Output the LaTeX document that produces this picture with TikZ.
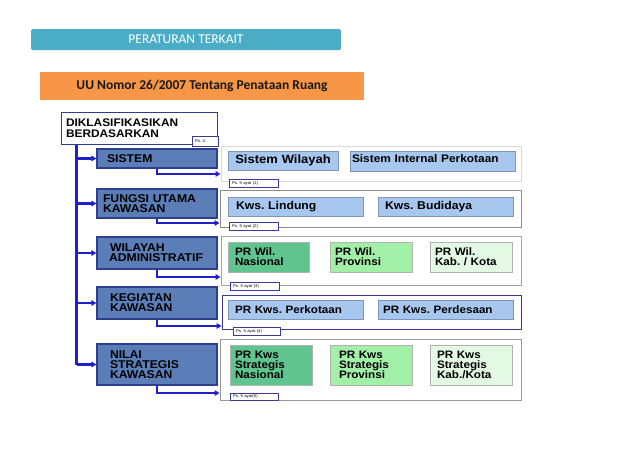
\documentclass[tikz,border=0pt]{standalone}
\usepackage{fontspec}
\setmainfont{Liberation Sans}[FakeStretch=1.08]
\newfontfamily\calib{Carlito}
\usetikzlibrary{arrows.meta}
\definecolor{cTeal}{HTML}{4BACC6}
\definecolor{cOrange}{HTML}{F79646}
\definecolor{cCat}{HTML}{5C7EB8}
\definecolor{cCatB}{HTML}{2E3F8F}
\definecolor{cArrow}{HTML}{1F1FCF}
\definecolor{cLB}{HTML}{A7C7EF}
\definecolor{cLBB}{HTML}{7F95B5}
\definecolor{cG1}{HTML}{5FC48E}
\definecolor{cG2}{HTML}{A2EFA8}
\definecolor{cG3}{HTML}{E4F9E4}
\definecolor{cLab}{HTML}{3A3A9A}
\frenchspacing
\begin{document}
\begin{tikzpicture}[x=1pt,y=-1pt,
  sz/.style 2 args={minimum width=#1pt,minimum height=#2pt,text width=#1pt},
  cat/.style={draw=cCatB,line width=1.2pt,fill=cCat,inner sep=0pt,align=left,
    font=\fontsize{11.3}{10}\selectfont\bfseries},
  inbox/.style={draw=cLBB,line width=0.8pt,fill=cLB,inner sep=0pt,align=left,
    font=\fontsize{12}{12}\selectfont\bfseries},
  grbox/.style={draw=gray!60,line width=0.8pt,inner sep=0pt,align=left,
    font=\fontsize{10.8}{10.2}\selectfont\bfseries},
  panel/.style={draw=#1,line width=0.9pt,fill=white,inner sep=0pt},
  lab/.style={draw=cLab,line width=0.6pt,fill=white,inner sep=0pt,align=left,
    font=\fontsize{4}{4}\selectfont},
  conn/.style={draw=cArrow,line width=2.2pt,-{Triangle[length=5pt,width=5.5pt]}},
  trunkline/.style={draw=cArrow,line width=2.2pt}]
\useasboundingbox (0,0) rectangle (638,451);

% title bars
\node[fill=cTeal,rounded corners=1.5pt,minimum width=310pt,minimum height=21pt,inner sep=0pt,
  text=white,font=\calib\fontsize{13.5}{13.5}\selectfont] (tb) at (186,39.5) {PERATURAN TERKAIT};
\node[fill=cOrange,minimum width=324pt,minimum height=28pt,inner sep=0pt,
  text=black!90,font=\calib\bfseries\fontsize{13.5}{13.5}\selectfont] (ob) at (202,86)
  {UU Nomor 26/2007 Tentang Penataan Ruang};

% panels
\node[panel=gray!30,minimum width=300pt,minimum height=35pt] (p1) at (371,163.5) {};
\node[panel=gray!90,minimum width=301pt,minimum height=37pt] (p2) at (370.5,208.5) {};
\node[panel=gray!70,minimum width=300pt,minimum height=49pt] (p3) at (371,260.5) {};
\node[panel=cLab,minimum width=299pt,minimum height=34pt] (p4) at (371.5,312) {};
\node[panel=gray!80,minimum width=301pt,minimum height=61pt] (p5) at (370.5,369.5) {};

% connector end points on panels
\coordinate (e1) at (p1.west |- 0,174);
\coordinate (e2) at (p2.west |- 0,223);
\coordinate (e3) at (p3.west |- 0,277);
\coordinate (e4) at (p4.west |- 0,326);
\coordinate (e5) at (p5.west |- 0,393);

% header box
\node[draw=cCatB,line width=1pt,fill=white,inner sep=0pt,align=left,sz={156}{32},
  font=\fontsize{11}{11.5}\selectfont\bfseries] (dk) at (139,128)
  {\hspace*{5pt}DIKLASIFIKASIKAN\\\hspace*{5pt}BERDASARKAN};
\coordinate (trunk) at ([xshift=16pt]dk.south west);

% category boxes
\node[cat,sz={120}{19}] (sis) at (157,158.5) {\hspace*{10pt}SISTEM};
\node[cat,sz={120}{29}] (fun) at (157,203.5) {\hspace*{6pt}FUNGSI UTAMA\\\hspace*{6pt}KAWASAN};
\node[cat,sz={120}{32}] (wil) at (157,253) {\hspace*{13pt}WILAYAH\\\hspace*{12pt}ADMINISTRATIF};
\node[cat,sz={120}{32}] (keg) at (157,303) {\hspace*{13pt}KEGIATAN\\\hspace*{13pt}KAWASAN};
\node[cat,sz={120}{41}] (nil) at (157,364.5) {\hspace*{13pt}NILAI\\\hspace*{13pt}STRATEGIS\\\hspace*{13pt}KAWASAN};

% trunk and arrows
\draw[trunkline] (trunk) -- (trunk |- nil.west);
\draw[conn] (trunk |- sis.west) -- (sis.west);
\draw[conn] (trunk |- fun.west) -- (fun.west);
\draw[conn] (trunk |- wil.west) -- (wil.west);
\draw[conn] (trunk |- keg.west) -- (keg.west);
\draw[conn] (trunk |- nil.west) -- (nil.west);

\draw[conn] (sis.south) |- (e1);
\draw[conn] (fun.south) |- (e2);
\draw[conn] (wil.south) |- (e3);
\draw[conn] (keg.south) |- (e4);
\draw[conn] (nil.south) |- (e5);

% inner boxes
\node[inbox,sz={110}{19},align=center] (sw) at (283,160.5) {Sistem Wilayah};
\node[inbox,sz={165}{20},font=\fontsize{11}{11}\selectfont\bfseries] (sip) at (432.5,161) {\hspace*{2pt}\raisebox{5pt}{Sistem Internal Perkotaan}};
\node[inbox,sz={135}{19},font=\fontsize{11.3}{11}\selectfont\bfseries] (kl) at (295.5,206.5) {\hspace*{8pt}Kws. Lindung};
\node[inbox,sz={135}{19},font=\fontsize{11.3}{11}\selectfont\bfseries] (kb) at (445.5,206.5) {\hspace*{7pt}Kws. Budidaya};

\node[grbox,fill=cG1,sz={81}{30}] (wn) at (268.5,257) {\hspace*{7pt}PR Wil.\\\hspace*{7pt}Nasional};
\node[grbox,fill=cG2,sz={82}{30}] (wp) at (371,257) {\hspace*{5pt}PR Wil.\\\hspace*{5pt}Provinsi};
\node[grbox,fill=cG3,sz={82}{30}] (wk) at (471,257) {\hspace*{5pt}PR Wil.\\\hspace*{5pt}Kab. / Kota};

\node[inbox,sz={135}{19},font=\fontsize{10.8}{11}\selectfont\bfseries] (kp) at (295.5,309.5) {\hspace*{7pt}PR Kws. Perkotaan};
\node[inbox,sz={135}{19},font=\fontsize{10.8}{11}\selectfont\bfseries] (kd) at (445.5,309.5) {\hspace*{5pt}PR Kws. Perdesaan};

\node[grbox,fill=cG1,sz={82}{40}] (sn) at (271,365) {\hspace*{5pt}PR Kws\\\hspace*{5pt}Strategis\\\hspace*{5pt}Nasional};
\node[grbox,fill=cG2,sz={82}{40}] (sp) at (371,365) {\hspace*{9pt}PR Kws\\\hspace*{9pt}Strategis\\\hspace*{9pt}Provinsi};
\node[grbox,fill=cG3,sz={82}{40}] (sk) at (471,365) {\hspace*{7pt}PR Kws\\\hspace*{7pt}Strategis\\\hspace*{7pt}Kab./Kota};

% pasal labels
\node[lab,sz={26}{10}] (l0) at (205,141) {\hspace*{3pt}Ps. 4};
\node[lab,sz={49}{8}] (l1) at (253.5,183) {\hspace*{3pt}Ps. 5 ayat (1)};
\node[lab,sz={49}{8}] (l2) at (253.5,226) {\hspace*{3pt}Ps. 5 ayat (2)};
\node[lab,sz={49}{8}] (l3) at (254.5,286) {\hspace*{3pt}Ps. 5 ayat (3)};
\node[lab,sz={47}{8}] (l4) at (256.5,331) {\hspace*{3pt}Ps. 5 ayat (4)};
\node[lab,sz={48}{7}] (l5) at (254,396.5) {\hspace*{3pt}Ps. 5 ayat(5)};
\end{tikzpicture}
\end{document}
